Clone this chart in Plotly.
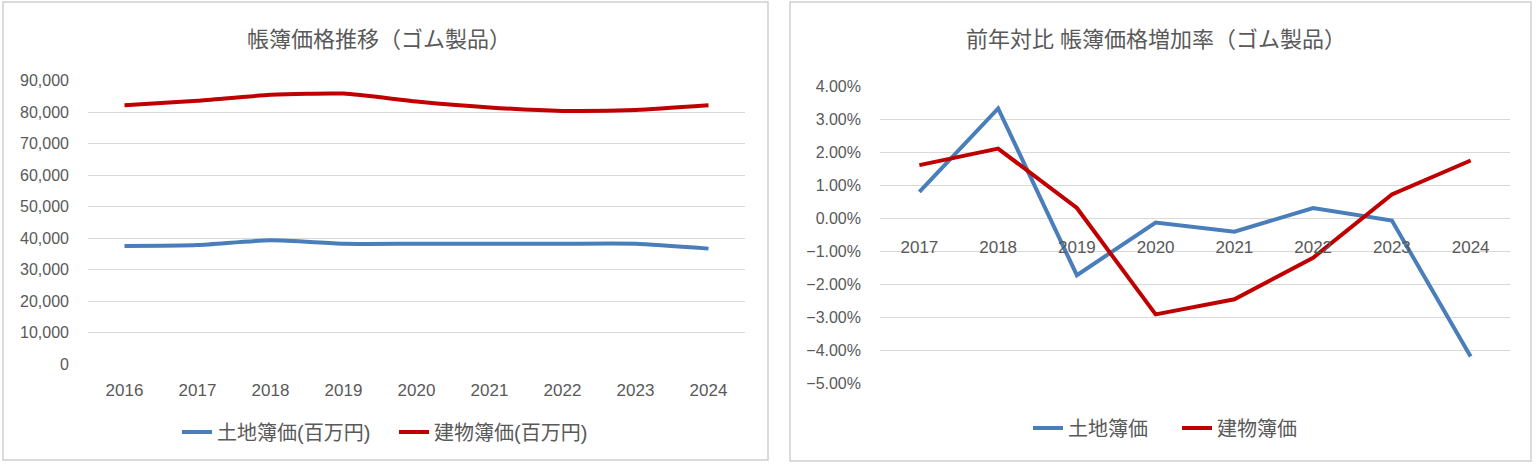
import plotly.graph_objects as go

# データ
years = ['2016', '2017', '2018', '2019', '2020', '2021', '2022', '2023', '2024']
land_value = [37500, 37800, 39300, 38200, 38200, 38200, 38200, 38200, 36650]
bldg_value = [82200, 83600, 85500, 85900, 83400, 81500, 80400, 80700, 82200]

rate_years = ['2017', '2018', '2019', '2020', '2021', '2022', '2023', '2024']
land_rate = [0.0081, 0.0334, -0.0172, -0.0012, -0.0040, 0.0032, -0.0006, -0.0419]
bldg_rate = [0.0162, 0.0212, 0.0032, -0.0291, -0.0245, -0.0119, 0.0073, 0.0176]

W, H = 1536, 464
BLUE = '#4a7ebb'
RED = '#c00000'
GRID = '#d9d9d9'
TXT = '#595959'
FONT = 'Liberation Sans, Noto Sans CJK JP'


def px(x):
    return x / W


def py(y):
    return 1 - y / H


fig = go.Figure()

# 左：帳簿価格推移
fig.add_trace(go.Scatter(x=years, y=land_value, name='土地簿価(百万円)', mode='lines',
                         line=dict(color=BLUE, width=4, shape='spline', smoothing=0.6),
                         xaxis='x', yaxis='y', legend='legend'))
fig.add_trace(go.Scatter(x=years, y=bldg_value, name='建物簿価(百万円)', mode='lines',
                         line=dict(color=RED, width=4, shape='spline', smoothing=0.6),
                         xaxis='x', yaxis='y', legend='legend'))

# 右：前年対比 増加率
fig.add_trace(go.Scatter(x=rate_years, y=land_rate, name='土地簿価', mode='lines',
                         line=dict(color=BLUE, width=4),
                         xaxis='x2', yaxis='y2', legend='legend2'))
fig.add_trace(go.Scatter(x=rate_years, y=bldg_rate, name='建物簿価', mode='lines',
                         line=dict(color=RED, width=4),
                         xaxis='x2', yaxis='y2', legend='legend2'))

y2_range = [-0.05, 0.04]
y2_dom = [py(383.3), py(86.7)]
zero_pos = y2_dom[0] + (0 - y2_range[0]) / (y2_range[1] - y2_range[0]) * (y2_dom[1] - y2_dom[0])

xtick_font = dict(family=FONT, size=17, color=TXT)
ytick_font = dict(family=FONT, size=16, color=TXT)
legend_font = dict(family=FONT, size=20, color=TXT)
title_font = dict(family=FONT, size=22, color=TXT)

fig.update_layout(
    width=W, height=H,
    margin=dict(l=0, r=0, t=0, b=0, autoexpand=False),
    paper_bgcolor='white', plot_bgcolor='white',
    font=dict(family=FONT, color=TXT),
    xaxis=dict(domain=[px(88), px(745)], type='category', range=[-0.5, 8.5],
               showgrid=False, showline=False, zeroline=False, anchor='y',
               tickfont=xtick_font, ticks='', ticklabelstandoff=14, automargin=False),
    yaxis=dict(domain=[py(364), py(80.7)], range=[0, 90000], dtick=10000,
               tickformat=',', gridcolor=GRID, gridwidth=1.3, zeroline=False,
               showline=False, tickfont=ytick_font, ticklabelstandoff=18, anchor='x',
               automargin=False),
    xaxis2=dict(domain=[px(880), px(1510)], type='category', range=[-0.5, 7.5],
                showgrid=False, showline=False, zeroline=False, anchor='free',
                position=zero_pos, tickfont=xtick_font, ticks='', ticklabelstandoff=16,
                automargin=False),
    yaxis2=dict(domain=y2_dom, range=y2_range, dtick=0.01, tickformat='.2%',
                gridcolor=GRID, gridwidth=1.3, zeroline=False, showline=False,
                tickfont=ytick_font, ticklabelstandoff=18, anchor='x2', automargin=False),
    legend=dict(orientation='h', x=px(177), y=py(432), xanchor='left', yanchor='middle',
                font=legend_font, bgcolor='rgba(0,0,0,0)', entrywidth=172),
    legend2=dict(orientation='h', x=px(1028), y=py(428), xanchor='left', yanchor='middle',
                 font=legend_font, bgcolor='rgba(0,0,0,0)', entrywidth=104),
    annotations=[
        dict(text='帳簿価格推移（ゴム製品）', x=px(379), y=py(39), xref='paper', yref='paper',
             xanchor='center', yanchor='middle', showarrow=False, font=title_font),
        dict(text='前年対比 帳簿価格増加率（ゴム製品）', x=px(1156), y=py(39), xref='paper',
             yref='paper', xanchor='center', yanchor='middle', showarrow=False, font=title_font),
    ],
    shapes=[
        dict(type='rect', xref='paper', yref='paper', x0=px(3), x1=px(768), y0=py(460), y1=py(2),
             line=dict(color='#d0d0d0', width=1.5)),
        dict(type='rect', xref='paper', yref='paper', x0=px(790), x1=px(1531), y0=py(461), y1=py(2),
             line=dict(color='#d0d0d0', width=1.5)),
    ],
)

# ページ既定の余白を消して図を左上に合わせる
fig.write_html('out.html', config={'displayModeBar': False},
               post_script="document.body.style.margin='0';")
